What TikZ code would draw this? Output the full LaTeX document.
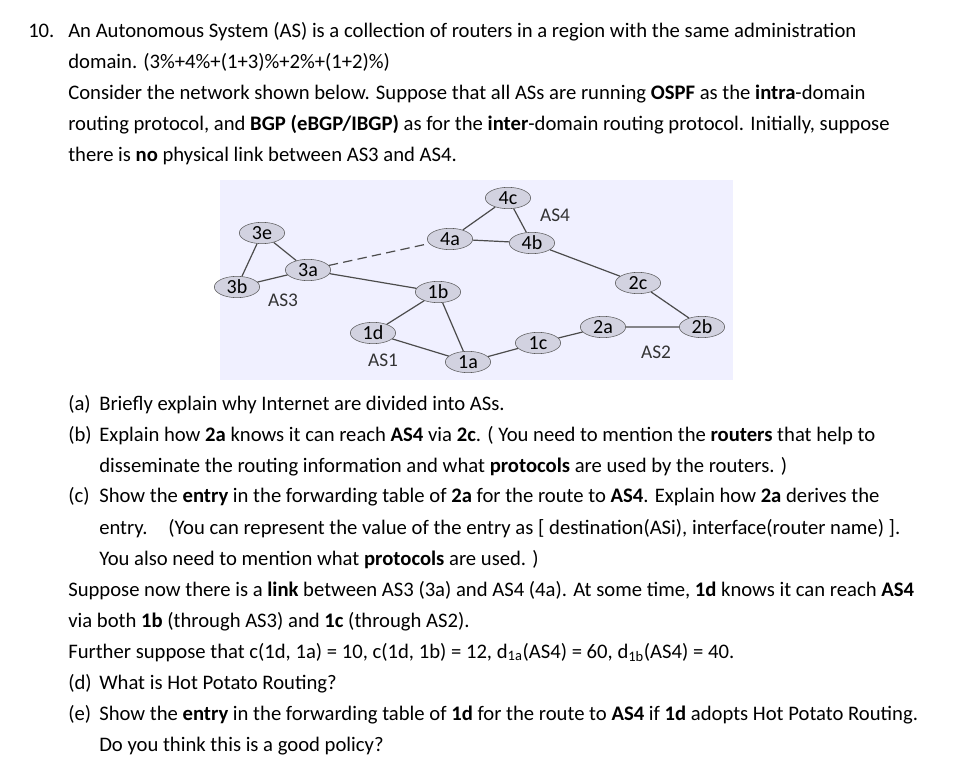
\documentclass[tikz,border=0pt]{standalone}
\usepackage{fontspec}
\setmainfont{Carlito}
\usetikzlibrary{shapes.geometric}
\begin{document}
\begin{tikzpicture}[x=0.75pt,y=-0.75pt,
  txt/.style={anchor=base west,inner sep=0pt,font=\fontsize{15.5pt}{17pt}\selectfont},
  rt/.style={ellipse,draw=gray!70!black,fill=blue!18!gray!30,minimum width=34pt,minimum height=16pt,inner sep=0pt,font=\fontsize{15pt}{16pt}\selectfont},
  lk/.style={draw=gray!60!black,line width=0.9pt},
  asl/.style={font=\fontsize{14.5pt}{16pt}\selectfont,text=black!80}]
\useasboundingbox (0,0) rectangle (957,780);
\fill[white] (0,0) rectangle (957,780);
\fill[blue!6!white] (220,180) rectangle (733,380);
\newcommand\bl[1]{\textbf{#1}}
\node[txt] (l0n) at (28,38) {10.};
\node[txt] (l0) at (68,38) {An Autonomous System (AS) is a collection of routers in a region with the same administration};
\node[txt] (l1) at (68,69) {domain. (3\%+4\%+(1+3)\%+2\%+(1+2)\%)};
\node[txt] (l2) at (68,100) {Consider the network shown below. Suppose that all ASs are running \bl{OSPF} as the \bl{intra}-domain};
\node[txt] (l3) at (68,131) {routing protocol, and \bl{BGP (eBGP/IBGP)} as for the \bl{inter}-domain routing protocol. Initially, suppose};
\node[txt] (l4) at (68,162) {there is \bl{no} physical link between AS3 and AS4.};
% diagram
\node[rt] (r3e) at (262,233) {3e};
\node[rt] (r3a) at (308,270) {3a};
\node[rt] (r3b) at (237,287) {3b};
\node[rt] (r4a) at (450,239) {4a};
\node[rt] (r4c) at (508,198) {4c};
\node[rt] (r4b) at (532,243) {4b};
\node[rt] (r1b) at (438,292) {1b};
\node[rt] (r1d) at (373,333) {1d};
\node[rt] (r1a) at (468,362) {1a};
\node[rt] (r1c) at (538,343) {1c};
\node[rt] (r2a) at (603,327) {2a};
\node[rt] (r2c) at (638,283) {2c};
\node[rt] (r2b) at (702,327) {2b};
\draw[lk] (r3e)--(r3a) (r3e)--(r3b) (r3b)--(r3a) (r3a)--(r1b)
 (r4a)--(r4c) (r4c)--(r4b) (r4a)--(r4b) (r4b)--(r2c) (r2c)--(r2b) (r2a)--(r2b)
 (r1b)--(r1d) (r1b)--(r1a) (r1d)--(r1a) (r1a)--(r1c) (r1c)--(r2a);
\draw[lk,dash pattern=on 7pt off 4pt] (r3a)--(r4a);
\node[asl] (as4) at (555,215) {AS4};
\node[asl] (as3) at (283,300) {AS3};
\node[asl] (as1) at (383,360) {AS1};
\node[asl] (as2) at (656,352) {AS2};
% questions
\node[txt] (qa) at (68,411) {(a)};
\node[txt] (qat) at (99,411) {Briefly explain why Internet are divided into ASs.};
\node[txt] (qb) at (68,442) {(b)};
\node[txt] (qbt) at (99,442) {Explain how \bl{2a} knows it can reach \bl{AS4} via \bl{2c}. ( You need to mention the \bl{routers} that help to};
\node[txt] (qb2) at (99,473) {disseminate the routing information and what \bl{protocols} are used by the routers. )};
\node[txt] (qc) at (68,503) {(c)};
\node[txt] (qct) at (99,503) {Show the \bl{entry} in the forwarding table of \bl{2a} for the route to \bl{AS4}. Explain how \bl{2a} derives the};
\node[txt] (qc2) at (99,534) {entry.\quad(You can represent the value of the entry as [ destination(ASi), interface(router name) ].};
\node[txt] (qc3) at (99,565) {You also need to mention what \bl{protocols} are used. )};
\node[txt] (s1) at (68,596) {Suppose now there is a \bl{link} between AS3 (3a) and AS4 (4a). At some time, \bl{1d} knows it can reach \bl{AS4}};
\node[txt] (s2) at (68,627) {via both \bl{1b} (through AS3) and \bl{1c} (through AS2).};
\node[txt] (s3) at (68,658) {Further suppose that c(1d, 1a) = 10, c(1d, 1b) = 12, d\textsubscript{1a}(AS4) = 60, d\textsubscript{1b}(AS4) = 40.};
\node[txt] (qd) at (68,689) {(d)};
\node[txt] (qdt) at (99,689) {What is Hot Potato Routing?};
\node[txt] (qe) at (68,720) {(e)};
\node[txt] (qet) at (99,720) {Show the \bl{entry} in the forwarding table of \bl{1d} for the route to \bl{AS4} if \bl{1d} adopts Hot Potato Routing.};
\node[txt] (qe2) at (99,751) {Do you think this is a good policy?};
\end{tikzpicture}
\end{document}
